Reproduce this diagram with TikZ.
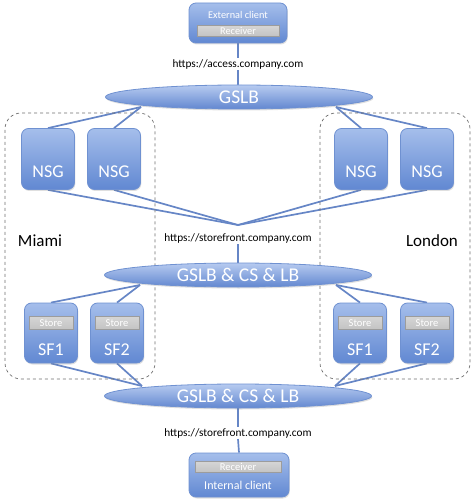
\documentclass[tikz,border=0pt]{standalone}
\usepackage{fontspec}
\setmainfont{Carlito}
\usetikzlibrary{shapes.geometric,backgrounds,shadows}
\definecolor{boxTop}{HTML}{A5BEEB}
\definecolor{boxBot}{HTML}{6188D2}
\definecolor{boxLine}{HTML}{6F91D1}
\definecolor{ellTop}{HTML}{B7CBF0}
\definecolor{ellBot}{HTML}{6287D0}
\definecolor{wire}{HTML}{6686C6}
\definecolor{barFill}{HTML}{C3C3C3}
\definecolor{barLine}{HTML}{9C9C9C}
\definecolor{cityLine}{HTML}{6E6E6E}
\begin{document}
\begin{tikzpicture}[x=1pt,y=1pt,
  softshadow/.style={drop shadow={opacity=0.25, shadow xshift=0.8pt, shadow yshift=-1.5pt}},
  bluebox/.style={rectangle, rounded corners=7pt, draw=boxLine, line width=0.8pt,
    top color=boxTop, bottom color=boxBot, inner sep=0pt, softshadow},
  lbell/.style={ellipse, draw=boxLine, line width=0.8pt, top color=ellTop, bottom color=ellBot,
    minimum width=267pt, minimum height=24pt, inner sep=0pt, text=white,
    font=\fontsize{19.5}{21}\selectfont, softshadow},
  graybar/.style={rectangle, draw=barLine, line width=0.6pt, top color=barFill!70,
    bottom color=barFill, inner sep=0pt, text=white},
  wirestyle/.style={draw=wire, line width=1.7pt},
  city/.style={rectangle, draw=cityLine, dashed, line width=0.7pt, rounded corners=16pt,
    minimum width=150pt, minimum height=266pt, inner sep=0pt},
  url/.style={font=\fontsize{11.3}{13}\selectfont, inner sep=1pt},
  citytext/.style={font=\fontsize{17}{19}\selectfont, inner sep=0pt},
  nsgbox/.style={bluebox, minimum width=53pt, minimum height=61pt},
  sfbox/.style={bluebox, minimum width=53pt, minimum height=60pt},
  boxlabel/.style={text=white, font=\fontsize{18}{20}\selectfont, inner sep=0pt},
  smalllabel/.style={text=white, inner sep=0pt},
  storebar/.style={graybar, minimum width=44pt, minimum height=13pt, font=\fontsize{10.5}{12}\selectfont}
]
\useasboundingbox (0,0) rectangle (474,-502);

% top client
\node[bluebox, minimum width=98pt, minimum height=40pt] (ext) at (238,-23) {};
\node[smalllabel, font=\fontsize{10.3}{12}\selectfont] (extlbl) at (238,-15) {External client};
\node[graybar, minimum width=82pt, minimum height=11pt, font=\fontsize{10.3}{12}\selectfont] (extrcv) at (238,-31) {Receiver};
\node[url] (url1) at (238,-64) {https://access.company.com};
\node[lbell] (g1) at (239,-97) {GSLB};

% regions
\node[city] (miami) at (80,-246) {};
\node[city] (london) at (395,-246) {};
\node[citytext] (miamilbl) at (40,-241) {Miami};
\node[citytext] (londonlbl) at (432,-241) {London};

% NSGs
\node[nsgbox] (nsg1) at (48,-159) {};
\node[nsgbox] (nsg2) at (114,-159) {};
\node[nsgbox] (nsg3) at (361,-159) {};
\node[nsgbox] (nsg4) at (427,-159) {};
\node[boxlabel] (nsg1l) at (48,-172) {NSG};
\node[boxlabel] (nsg2l) at (114,-172) {NSG};
\node[boxlabel] (nsg3l) at (361,-172) {NSG};
\node[boxlabel] (nsg4l) at (427,-172) {NSG};

\coordinate (gL) at (141,-107);
\coordinate (gR) at (336,-107);
\coordinate (conv) at (238,-225);

\node[url] (url2) at (238,-238) {https://storefront.company.com};
\node[lbell] (g2) at (238,-275) {GSLB \& CS \& LB};

\coordinate (mL) at (140,-285);
\coordinate (mR) at (336,-285);

% SFs
\node[sfbox] (sf1) at (51,-333) {};
\node[sfbox] (sf2) at (117,-333) {};
\node[sfbox] (sf3) at (360,-333) {};
\node[sfbox] (sf4) at (427,-333) {};
\node[storebar] (st1) at (51,-323) {Store};
\node[storebar] (st2) at (117,-323) {Store};
\node[storebar] (st3) at (360,-323) {Store};
\node[storebar] (st4) at (427,-323) {Store};
\node[boxlabel] (sf1l) at (51,-350) {SF1};
\node[boxlabel] (sf2l) at (117,-350) {SF2};
\node[boxlabel] (sf3l) at (360,-350) {SF1};
\node[boxlabel] (sf4l) at (427,-350) {SF2};

\coordinate (bL) at (142,-386);
\coordinate (bR) at (335,-386);

\node[lbell] (g3) at (238,-396) {GSLB \& CS \& LB};
\node[url] (url3) at (238,-433) {https://storefront.company.com};

% internal client
\node[bluebox, minimum width=100pt, minimum height=44pt] (int) at (239,-475) {};
\node[graybar, minimum width=86pt, minimum height=11pt, font=\fontsize{10.5}{12}\selectfont] (intrcv) at (238,-467) {Receiver};
\node[smalllabel, font=\fontsize{12}{14}\selectfont] (intlbl) at (238,-485) {Internal client};

\begin{scope}[on background layer]
  \draw[wirestyle] (ext.south) -- (url1.north);
  \draw[wirestyle] (url1.south) -- (url1.south |- g1.north);
  \draw[wirestyle] (gL) -- (nsg1.north);
  \draw[wirestyle] (gL) -- (nsg2.north);
  \draw[wirestyle] (gR) -- (nsg3.north);
  \draw[wirestyle] (gR) -- (nsg4.north);
  \draw[wirestyle] (nsg1.south) -- (conv);
  \draw[wirestyle] (nsg2.south) -- (conv);
  \draw[wirestyle] (nsg3.south) -- (conv);
  \draw[wirestyle] (nsg4.south) -- (conv);
  \draw[wirestyle] (url2.south) -- (g2.north);
  \draw[wirestyle] (mL) -- (sf1.north);
  \draw[wirestyle] (mL) -- (sf2.north);
  \draw[wirestyle] (mR) -- (sf3.north);
  \draw[wirestyle] (mR) -- (sf4.north);
  \draw[wirestyle] (sf1.south) -- (bL);
  \draw[wirestyle] (sf2.south) -- (bL);
  \draw[wirestyle] (sf3.south) -- (bR);
  \draw[wirestyle] (sf4.south) -- (bR);
  \draw[wirestyle] (g3.south) -- (url3.north);
  \draw[wirestyle] (url3.south) -- (int.north);
\end{scope}
\end{tikzpicture}
\end{document}
